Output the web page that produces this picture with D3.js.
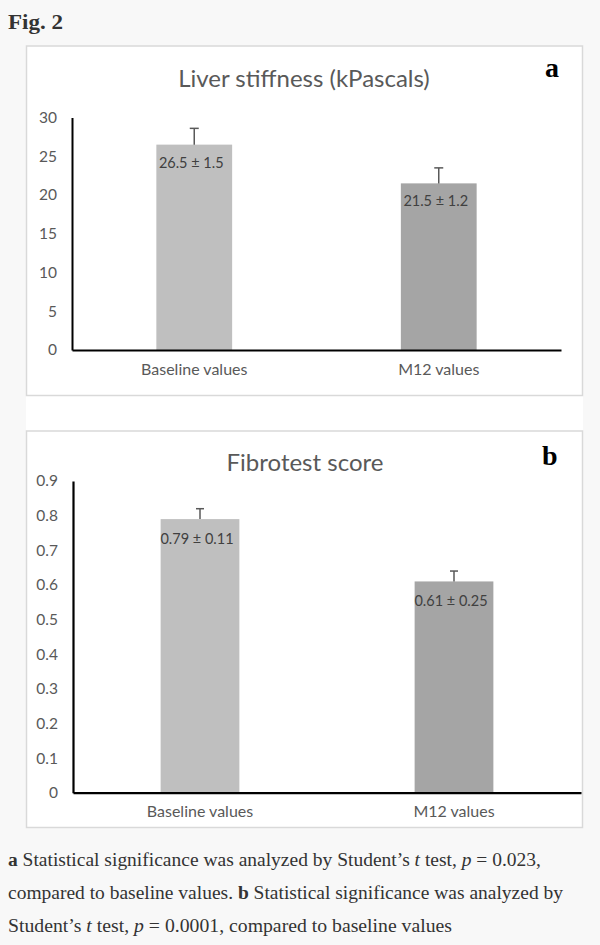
<!DOCTYPE html>
<html>
<head>
<meta charset="utf-8">
<script src="https://cdn.jsdelivr.net/npm/d3@7"></script>
<style>
  html, body { margin: 0; padding: 0; background: #f8f8f8; }
  svg { display: block; }
</style>
</head>
<body>
<svg id="chart" width="600" height="945"></svg>
<script>
// ---------- data ----------
const categories = ["Baseline values", "M12 values"];
const stiffnessMean = [26.5, 21.5];
const stiffnessSD = [1.5, 1.2];
const stiffnessErrDrawn = [2.1, 2.0];
const stiffnessTicks = [0, 5, 10, 15, 20, 25, 30];
const fibrotestMean = [0.79, 0.61];
const fibrotestSD = [0.11, 0.25];
const fibrotestErrDrawn = [0.03, 0.03];
const fibrotestTicks = [0, 0.1, 0.2, 0.3, 0.4, 0.5, 0.6, 0.7, 0.8, 0.9];
const barColors = ["#bfbfbf", "#a5a5a5"];
const figLabel = "Fig. 2";
const captionLines = [
  [{t:"a", b:true}, {t:" Statistical significance was analyzed by Student\u2019s "}, {t:"t", i:true}, {t:" test, "}, {t:"p", i:true}, {t:" = 0.023,"}],
  [{t:"compared to baseline values. "}, {t:"b", b:true}, {t:" Statistical significance was analyzed by"}],
  [{t:"Student\u2019s "}, {t:"t", i:true}, {t:" test, "}, {t:"p", i:true}, {t:" = 0.0001, compared to baseline values"}]
];

const svg = d3.select("#chart");
const sans = "Lato, Carlito, Calibri, 'Open Sans', sans-serif";
const serif = "Georgia, 'Liberation Serif', 'DejaVu Serif', serif";

// figure heading
svg.append("text").attr("x", 8).attr("y", 29)
  .attr("font-family", serif).attr("font-weight", "bold").attr("font-size", 21)
  .attr("fill", "#333").attr("textLength", 55).attr("lengthAdjust", "spacingAndGlyphs")
  .text(figLabel);

// white image background
svg.append("rect").attr("x", 26).attr("y", 46).attr("width", 557).attr("height", 782).attr("fill", "#fff");

function panel(cfg) {
  const g = svg.append("g");
  g.append("rect").attr("x", cfg.box[0]).attr("y", cfg.box[1])
    .attr("width", cfg.box[2]).attr("height", cfg.box[3])
    .attr("fill", "#fff").attr("stroke", "#d9d9d9").attr("stroke-width", 1.5);

  const x = d3.scaleBand().domain(categories).range(cfg.xRange).padding(0);
  const y = d3.scaleLinear().domain([0, d3.max(cfg.ticks)]).range(cfg.yRange);
  const bw = x.bandwidth() * 0.31;

  // title
  g.append("text").attr("x", cfg.titleX).attr("y", cfg.titleY)
    .attr("text-anchor", "middle").attr("font-family", sans).attr("font-size", 24)
    .attr("fill", "#595959").text(cfg.title);
  // panel letter
  g.append("text").attr("x", cfg.letterX).attr("y", cfg.letterY)
    .attr("font-family", "'Liberation Serif', 'Times New Roman', serif").attr("font-weight", "bold")
    .attr("font-size", 28).attr("fill", "#000").text(cfg.letter);

  // bars
  g.selectAll("rect.bar").data(cfg.values).join("rect").attr("class", "bar")
    .attr("x", (d, i) => x(categories[i]) + x.bandwidth() / 2 - bw / 2)
    .attr("y", d => y(d))
    .attr("width", bw)
    .attr("height", d => y(0) - y(d))
    .attr("fill", (d, i) => barColors[i]);

  // error bars (upper only)
  const eg = g.selectAll("g.err").data(cfg.values).join("g").attr("class", "err");
  eg.append("line")
    .attr("x1", (d, i) => x(categories[i]) + x.bandwidth() / 2)
    .attr("x2", (d, i) => x(categories[i]) + x.bandwidth() / 2)
    .attr("y1", d => y(d))
    .attr("y2", (d, i) => y(d + cfg.err[i]))
    .attr("stroke", "#595959").attr("stroke-width", 1.5);
  eg.append("line")
    .attr("x1", (d, i) => x(categories[i]) + x.bandwidth() / 2 - cfg.cap)
    .attr("x2", (d, i) => x(categories[i]) + x.bandwidth() / 2 + cfg.cap)
    .attr("y1", (d, i) => y(d + cfg.err[i]))
    .attr("y2", (d, i) => y(d + cfg.err[i]))
    .attr("stroke", "#595959").attr("stroke-width", 1.5);

  // value labels
  g.selectAll("text.val").data(cfg.values).join("text").attr("class", "val")
    .attr("x", (d, i) => x(categories[i]) + x.bandwidth() / 2 - 3)
    .attr("y", d => y(d) + cfg.labelOffset)
    .attr("text-anchor", "middle").attr("font-family", sans).attr("font-size", 14.5)
    .attr("fill", "#404040")
    .text((d, i) => cfg.fmt(d) + " \u00b1 " + cfg.fmt(cfg.sd[i]));

  // y axis
  const ya = d3.axisLeft(y).tickValues(cfg.ticks).tickSize(0).tickPadding(15)
    .tickFormat(d => cfg.tickFmt(d));
  const yg = g.append("g").attr("transform", `translate(${cfg.xRange[0]},0)`).call(ya);
  yg.select(".domain").attr("stroke", "#000").attr("stroke-width", cfg.axisW);
  yg.selectAll("text").attr("font-family", sans).attr("font-size", 15.5).attr("fill", "#595959");

  // x axis
  const xa = d3.axisBottom(x).tickSize(0).tickPadding(cfg.xPad);
  const xg = g.append("g").attr("transform", `translate(0,${y(0)})`).call(xa);
  xg.select(".domain").attr("stroke", "#000").attr("stroke-width", cfg.axisW);
  xg.selectAll("text").attr("font-family", sans).attr("font-size", 16).attr("fill", "#595959");
}

panel({
  box: [26.5, 46, 556, 349.5],
  xRange: [72, 561], yRange: [350, 117.5],
  ticks: stiffnessTicks, values: stiffnessMean, err: stiffnessErrDrawn, sd: stiffnessSD,
  title: "Liver stiffness (kPascals)", titleX: 304, titleY: 87,
  letter: "a", letterX: 545, letterY: 77,
  cap: 4.5, labelOffset: 23, axisW: 2,
  fmt: d => d3.format(".1f")(d), tickFmt: d => d3.format("d")(d), xPad: 14
});

panel({
  box: [26.5, 431, 556, 396.5],
  xRange: [73, 581], yRange: [792.7, 481],
  ticks: fibrotestTicks, values: fibrotestMean, err: fibrotestErrDrawn, sd: fibrotestSD,
  title: "Fibrotest score", titleX: 305, titleY: 471,
  letter: "b", letterX: 542, letterY: 465,
  cap: 4, labelOffset: 25, axisW: 2.2,
  fmt: d => d3.format(".2f")(d), tickFmt: d => d === 0 ? "0" : d3.format(".1f")(d), xPad: 13
});

// caption
const capBase = [866, 899, 931.5];
const capWidths = [533, 555, 444];
captionLines.forEach((line, li) => {
  const t = svg.append("text").attr("x", 8).attr("y", capBase[li])
    .attr("font-family", serif).attr("font-size", 18).attr("fill", "#333")
    .attr("textLength", capWidths[li]).attr("lengthAdjust", "spacingAndGlyphs");
  line.forEach(s => {
    t.append("tspan").text(s.t)
      .attr("font-weight", s.b ? "bold" : null)
      .attr("font-style", s.i ? "italic" : null);
  });
});
</script>
</body>
</html>
